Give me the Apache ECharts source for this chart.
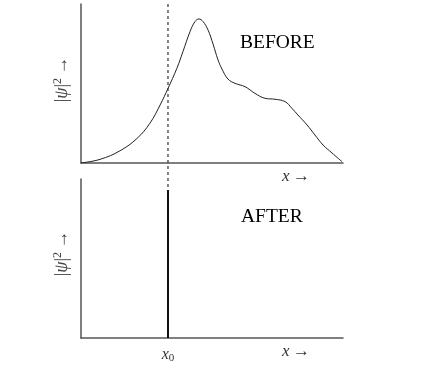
<!DOCTYPE html>
<html><head><meta charset="utf-8">
<script src="https://cdn.jsdelivr.net/npm/echarts@6/dist/echarts.min.js"></script>
<style>html,body{margin:0;padding:0;background:#fff}#c{width:430px;height:375px}</style>
</head><body><div id="c"></div>
<script>
// Probability density |psi|^2 before measurement (x, y) in arbitrary units 0..10
const beforeX = [0,0.73,1.49,2.14,2.63,3.02,3.32,3.66,3.89,4.16,4.35,4.50,4.66,4.85,5.04,5.23,5.38,5.61,5.88,6.26,6.64,7.02,7.40,7.79,8.05,8.28,8.63,8.93,9.24,9.58,9.96];
const beforeY = [0,0.23,0.77,1.55,2.50,3.65,4.69,5.96,7.00,8.26,8.89,9.06,8.89,8.36,7.48,6.48,5.91,5.28,5.01,4.80,4.38,4.07,4.01,3.86,3.44,3.02,2.39,1.76,1.13,0.63,0.09];
// measured position
const x0 = 3.32;
const afterSpikeY = [0, 9.31];
const dashedY = [10, -1.70];

const serif = '"Liberation Serif","DejaVu Serif",serif';
const axisLine = {show:true, lineStyle:{color:'#555', width:1.5}};
const yName = '{t||}{p|ψ}{t||}{s|2} {t|→}';
const yRich = {
  t:{fontFamily:serif,fontSize:18,color:'#444'},
  p:{fontFamily:serif,fontSize:18,fontStyle:'italic',color:'#444'},
  s:{fontFamily:serif,fontSize:12,color:'#444',verticalAlign:'bottom',padding:[0,0,9,0]}
};
const xName = '{i|x} {t|→}';
const xRich = {
  i:{fontFamily:serif,fontSize:17,fontStyle:'italic',color:'#333'},
  t:{fontFamily:serif,fontSize:17,color:'#333'}
};

const chart = echarts.init(document.getElementById('c'), null, {renderer:'canvas'});
chart.setOption({
  animation:false,
  title:[
    {text:'BEFORE', left:235, top:28, textStyle:{fontFamily:serif,fontSize:19.5,fontWeight:'normal',color:'#000'}},
    {text:'AFTER', left:236, top:202, textStyle:{fontFamily:serif,fontSize:19.5,fontWeight:'normal',color:'#000'}}
  ],
  grid:[
    {left:81, top:4, width:262, height:159},
    {left:81, top:179, width:262, height:159}
  ],
  xAxis:[
    {gridIndex:0, type:'value', min:0, max:10, axisLine:axisLine, axisTick:{show:false}, axisLabel:{show:false}, splitLine:{show:false},
     name:xName, nameLocation:'end', nameGap:-61, nameTextStyle:{align:'left', verticalAlign:'top', padding:[5,0,0,0], rich:xRich}},
    {gridIndex:1, type:'value', min:0, max:10, axisLine:axisLine, axisTick:{show:false}, splitLine:{show:false},
     axisLabel:{show:true, customValues:[x0], formatter:function(){return '{i|x}{s|0}';}, margin:7,
       rich:{i:{fontFamily:serif,fontSize:16,fontStyle:'italic',color:'#333'}, s:{fontFamily:serif,fontSize:11,color:'#333',verticalAlign:'top',padding:[8,0,0,0]}}},
     name:xName, nameLocation:'end', nameGap:-61, nameTextStyle:{align:'left', verticalAlign:'top', padding:[5,0,0,0], rich:xRich}}
  ],
  yAxis:[
    {gridIndex:0, type:'value', min:0, max:10, axisLine:axisLine, axisTick:{show:false}, axisLabel:{show:false}, splitLine:{show:false},
     name:yName, nameLocation:'middle', nameRotate:90, nameGap:8, nameTextStyle:{rich:yRich, padding:[0,0,0,8]}},
    {gridIndex:1, type:'value', min:0, max:10, axisLine:axisLine, axisTick:{show:false}, axisLabel:{show:false}, splitLine:{show:false},
     name:yName, nameLocation:'middle', nameRotate:90, nameGap:8, nameTextStyle:{rich:yRich, padding:[0,0,0,10]}}
  ],
  series:[
    {type:'line', xAxisIndex:0, yAxisIndex:0, smooth:0.4, symbol:'none',
     lineStyle:{color:'#222', width:1}, data:beforeX.map((x,i)=>[x,beforeY[i]])},
    {type:'line', xAxisIndex:0, yAxisIndex:0, symbol:'none', clip:false,
     lineStyle:{color:'#333', width:1.2, type:[3,3]}, data:dashedY.map(y=>[x0,y])},
    {type:'line', xAxisIndex:1, yAxisIndex:1, symbol:'none',
     lineStyle:{color:'#111', width:2}, data:afterSpikeY.map(y=>[x0,y])}
  ]
});
</script></body></html>
